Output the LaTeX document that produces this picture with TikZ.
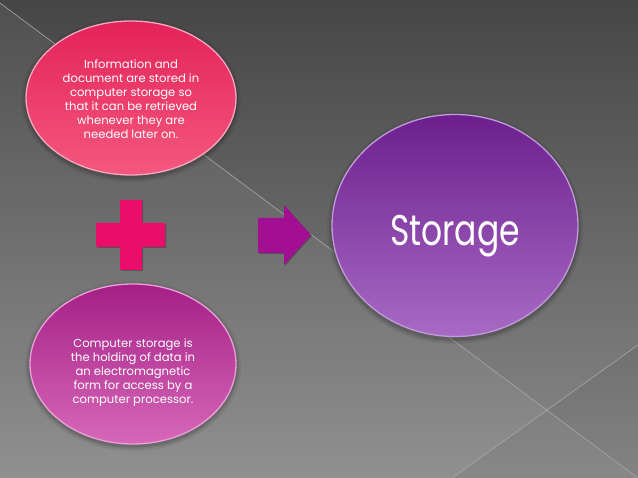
\documentclass[tikz,border=0pt]{standalone}
\usepackage{fontspec}
\setmainfont{Poppins}
\usetikzlibrary{shapes.geometric}
\definecolor{bgtop}{HTML}{464646}
\definecolor{bgbot}{HTML}{8A8A8A}
\definecolor{redA}{HTML}{E4225A}
\definecolor{redB}{HTML}{F4587E}
\definecolor{redRim}{HTML}{F8A8BE}
\definecolor{magA}{HTML}{A51F86}
\definecolor{magB}{HTML}{D668B8}
\definecolor{magRim}{HTML}{EBA0DA}
\definecolor{purA}{HTML}{6C1F8E}
\definecolor{purB}{HTML}{A86AC4}
\definecolor{purRim}{HTML}{C09ADB}
\definecolor{crossc}{HTML}{EA0E6A}
\definecolor{arrowc}{HTML}{A20F92}
\definecolor{linec}{HTML}{A8A8A8}
\tikzset{
  bubble/.style={ellipse, inner sep=0pt, line width=1.3pt},
  shadowell/.style={ellipse, inner sep=0pt, fill=black, draw=none},
  btext/.style={text=white, align=center, font=\fontsize{11.6}{14}\selectfont},
  bgline/.style={draw=linec, line width=0.6pt},
}
\begin{document}
\begin{tikzpicture}[x=1pt,y=-1pt]
\useasboundingbox (0,0) rectangle (638,478);
% background
\shade[top color=bgtop, bottom color=bgbot] (0,0) rectangle (638,478);
\fill[white, opacity=0.05] (0,3) -- (638,478) -- (0,478) -- cycle;
\fill[black, opacity=0.05] (638,345) -- (638,478) -- (452,478) -- cycle;
\coordinate (l1a) at (0,3);
\coordinate (l1b) at (638,478);
\coordinate (l2a) at (638,345);
\coordinate (l2b) at (452,478);
\draw[bgline] (l1a) -- (l1b);
\draw[bgline] (l2a) -- (l2b);
% shadows
\foreach \o/\g in {0.06/10, 0.08/6, 0.10/3}{
  \node[shadowell, opacity=\o, minimum width=210+\g, minimum height=154+\g] at (131,100) {};
  \node[shadowell, opacity=\o, minimum width=206+\g, minimum height=160+\g] at (133,366) {};
  \node[shadowell, opacity=\o, minimum width=246+\g, minimum height=222+\g] at (455,228) {};
}
% top ellipse
\node[bubble, draw=redRim, top color=redA, bottom color=redB,
      minimum width=210, minimum height=154] (top) at (131,98) {};
\node[btext] (toptext) at (131,99) {Information and\\document are stored in\\computer storage so\\that it can be retrieved\\whenever they are\\needed later on.};
% bottom ellipse
\node[bubble, draw=magRim, top color=magA, bottom color=magB,
      minimum width=206, minimum height=160] (bottom) at (133,364) {};
\node[btext] (bottomtext) at (133,373)
  {Computer storage is\\the holding of data in\\an electromagnetic\\form for access by a\\computer processor.};
% big circle
\node[bubble, draw=purRim, top color=purA, bottom color=purB,
      minimum width=246, minimum height=222] (storage) at (455,225.5) {};
\node[text=white, font=\fontsize{33}{40}\selectfont] (storagetext) at (455,236)
  {\scalebox{1}[1.3]{Storage}};
% cross
\fill[black, opacity=0.25] (121,201) -- (143,201) -- (143,224) -- (166,224) -- (166,248) -- (143,248) -- (143,271) -- (121,271) -- (121,248) -- (97,248) -- (97,224) -- (121,224) -- cycle;
\fill[crossc] (120,200) -- (142,200) -- (142,223) -- (165,223) -- (165,247) -- (142,247) -- (142,270) -- (120,270) -- (120,247) -- (96,247) -- (96,223) -- (120,223) -- cycle;
% arrow
\fill[black, opacity=0.25] (259,219) -- (285,219) -- (285,206) -- (312,236) -- (285,266) -- (285,254) -- (259,254) -- cycle;
\fill[arrowc] (258,218) -- (284,218) -- (284,205) -- (311,235) -- (284,265) -- (284,253) -- (258,253) -- cycle;
\end{tikzpicture}
\end{document}
